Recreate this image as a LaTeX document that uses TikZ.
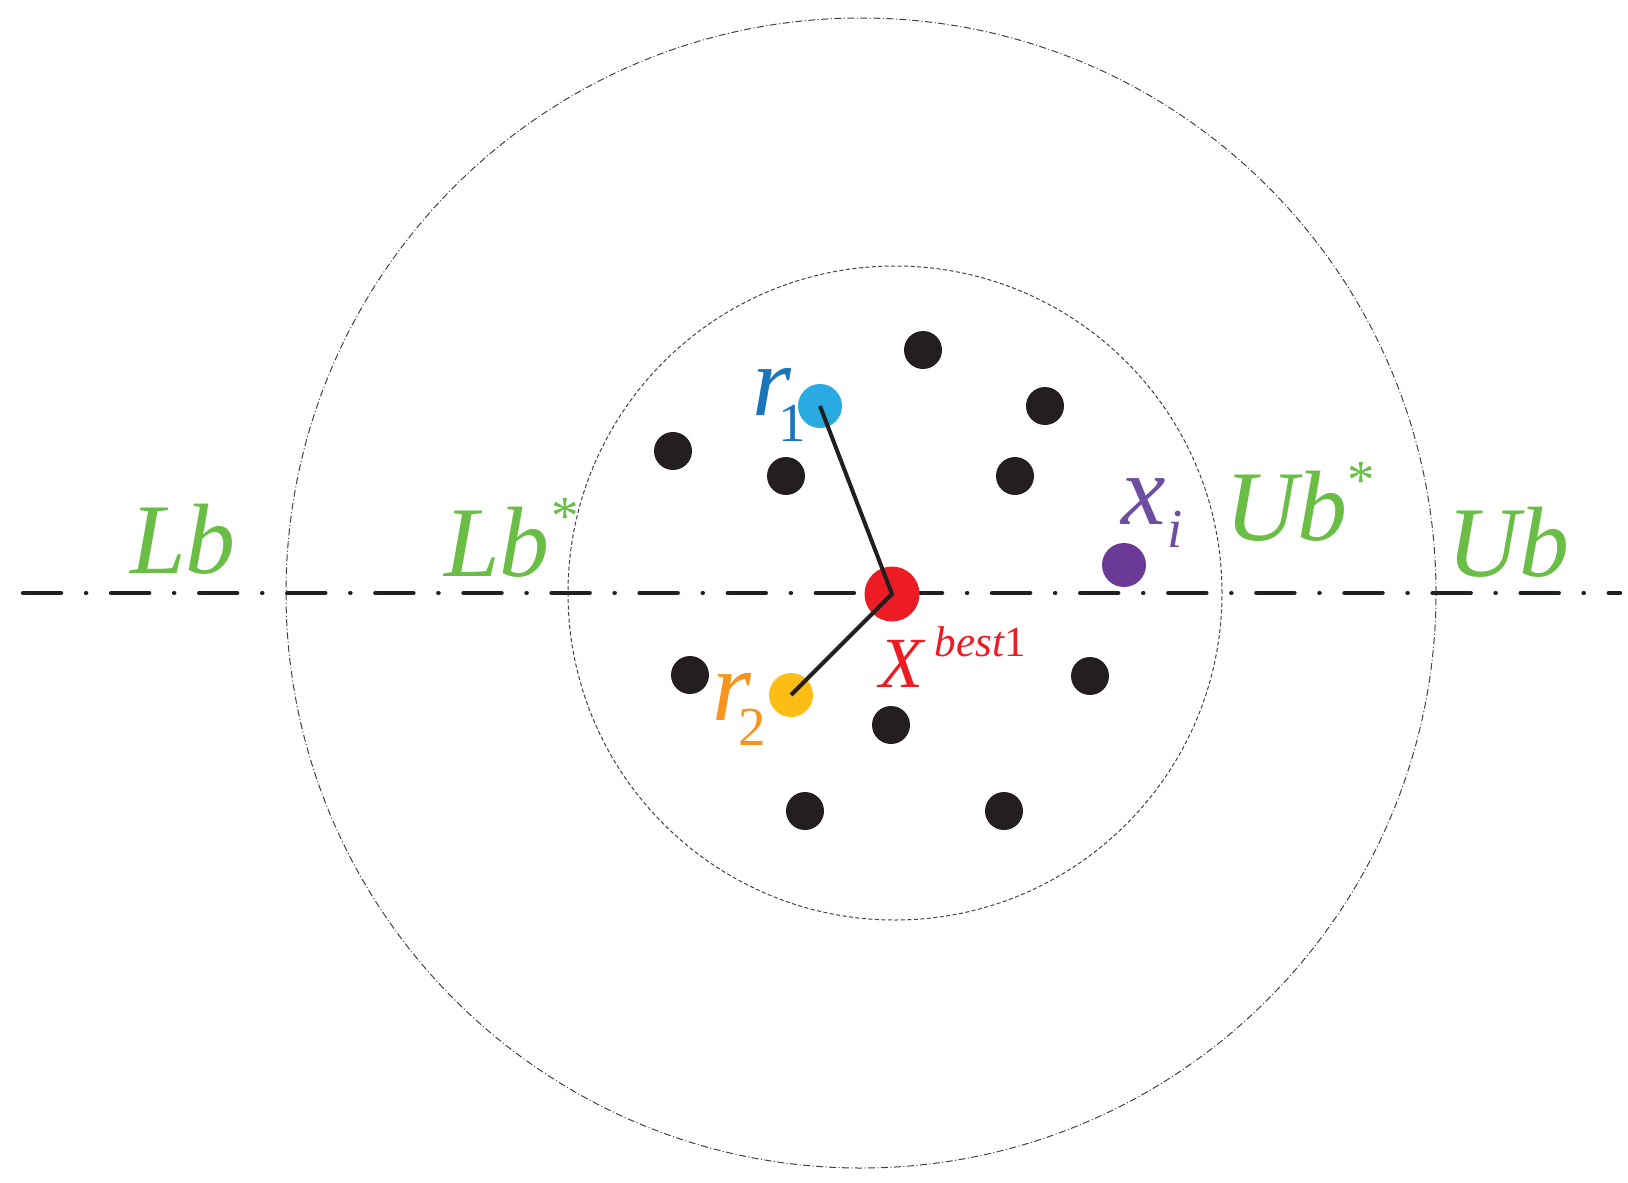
\documentclass[tikz,border=0pt]{standalone}
\usepackage{fontspec}
\setmainfont{Liberation Serif}[ItalicFont={Liberation Serif Italic}]
\definecolor{cgreen}{RGB}{106,189,69}
\definecolor{cred}{RGB}{237,28,36}
\definecolor{ccyan}{RGB}{41,171,226}
\definecolor{cyellow}{RGB}{253,189,20}
\definecolor{cpurple}{RGB}{106,58,150}
\definecolor{cblue}{RGB}{27,117,187}
\definecolor{corange}{RGB}{247,148,29}
\definecolor{cxi}{RGB}{110,78,160}
\definecolor{cblack}{RGB}{35,31,32}
\begin{document}
\begin{tikzpicture}[x=1pt,y=-1pt,
  dot/.style={circle,fill=cblack,draw=none,inner sep=0pt,minimum size=38pt},
  bigdot/.style={circle,draw=none,inner sep=0pt,minimum size=44pt},
  lbl/.style={anchor=base west,inner sep=0pt,outer sep=0pt},
  big/.style={font=\fontsize{100}{100}\selectfont\itshape},
  axis/.style={cblack,line width=4.5pt,line cap=round,dash pattern=on 38pt off 25pt on 0.1pt off 25pt},
  ring/.style={cblack!85,line width=1pt},
  link/.style={cblack,line width=4pt}]
\useasboundingbox (0,0) rectangle (1628,1183);
% rings
\draw[ring,dash pattern=on 7pt off 2.5pt on 1pt off 2.5pt] (861,593) circle[radius=575pt];
\draw[ring,dash pattern=on 4pt off 2.5pt] (895,593) circle[radius=327pt];
% axis
\coordinate (axL) at (23,593);
\coordinate (axR) at (1620,593);
\draw[axis] (axL) -- (axR);
% black points
\node[dot] (d1) at (923,350) {};
\node[dot] (d2) at (1045,406) {};
\node[dot] (d3) at (673,451) {};
\node[dot] (d4) at (786,476) {};
\node[dot] (d5) at (1015,476) {};
\node[dot] (d6) at (690,675) {};
\node[dot] (d7) at (1090,676) {};
\node[dot] (d8) at (891,725) {};
\node[dot] (d9) at (805,811) {};
\node[dot] (d10) at (1004,811) {};
% coloured points
\node[bigdot,fill=cred,minimum size=55pt] (best) at (892,594) {};
\node[bigdot,fill=ccyan] (r1) at (820,406) {};
\node[bigdot,fill=cyellow] (r2) at (791,695) {};
\node[bigdot,fill=cpurple] (xi) at (1124,565) {};
% links
\draw[link,line join=miter] (r1.center) -- (best.center) -- (r2.center);
% labels
\node[lbl,big,text=cgreen] (lLb) at (130,573) {Lb};
\node[lbl,big,text=cgreen] (lLbs) at (444,576) {Lb\hspace{2pt}\raisebox{42pt}{\fontsize{55}{55}\selectfont\upshape *}};
\node[lbl,big,text=cgreen] (lUbs) at (1225,540) {Ub\hspace{0pt}\raisebox{42pt}{\fontsize{55}{55}\selectfont\upshape *}};
\node[lbl,big,text=cgreen] (lUb) at (1447,576) {Ub};
\node[lbl,big,text=cxi] (lxi) at (1121,524) {x\hspace{2pt}\raisebox{-23pt}{\fontsize{55}{55}\selectfont i}};
\node[lbl,big,text=cblue] (lr1) at (752,415) {r\hspace{-12pt}\raisebox{-26pt}{\fontsize{55}{55}\selectfont\upshape 1}};
\node[lbl,big,text=corange] (lr2) at (712,720) {r\hspace{-12pt}\raisebox{-25pt}{\fontsize{55}{55}\selectfont\upshape 2}};
\node[lbl,text=cred,font=\fontsize{72}{72}\selectfont\itshape] (lbest) at (879,687) {X\hspace{12pt}\raisebox{31pt}{\fontsize{43}{43}\selectfont best\upshape 1}};
\end{tikzpicture}
\end{document}
